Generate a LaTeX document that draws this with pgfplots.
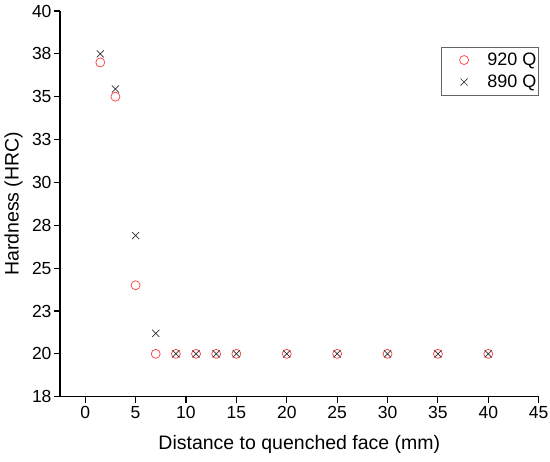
\documentclass[border=0pt]{standalone}
\usepackage{fontspec}
\setmainfont{Liberation Sans}
\usepackage{pgfplots}
\pgfplotsset{compat=1.18}
\definecolor{redm}{RGB}{255,60,60}
\definecolor{darkm}{RGB}{50,50,50}
\pgfplotsset{myleg/.style={legend image code/.code={\path[draw=none,fill=none] (0bp,-4bp) rectangle (44bp,4bp); \draw[##1,mark repeat=2,mark phase=2] plot coordinates {(0bp,0bp)(22.7bp,0bp)(44bp,0bp)};}}}
\begin{document}
\begin{tikzpicture}
\useasboundingbox (-60bp,-65.3bp) rectangle (490bp,396.7bp);
\begin{axis}[
  at={(0,0)}, anchor=south west,
  scale only axis,
  width=478.7bp, height=385.7bp,
  axis lines*=left,
  axis line style={black, line width=1.1bp},
  xmin=-2.5, xmax=45, ymin=17.5, ymax=40,
  xtick={0,5,...,45},
  ytick={17.5,20,22.5,25,27.5,30,32.5,35,37.5,40},
  yticklabels={18,20,23,25,28,30,33,35,38,40},
  tick align=outside,
  major tick length=6bp,
  tick style={black, line width=1.1bp},
  /pgf/number format/assume math mode=true,
  tick label style={font=\fontsize{17.5bp}{20bp}\selectfont},
  yticklabel style={xshift=1bp},
  label style={font=\fontsize{19.5bp}{22bp}\selectfont},
  xlabel={Distance to quenched face (mm)},
  ylabel={Hardness (HRC)},
  xlabel style={at={(axis description cs:0.5,-0.1245)}, anchor=center},
  ylabel style={at={(axis description cs:-0.097,0.5)}, anchor=center},
  legend style={at={(1,0.9074)}, anchor=north east, draw=gray!80!black, line width=0.6bp,
    font=\fontsize{18bp}{20bp}\selectfont, row sep=4bp, inner xsep=0bp, inner ysep=4bp},
  legend cell align=left,
]
\addplot[only marks, mark=o, mark size=4.5bp, color=redm, mark options={line width=0.7bp}, myleg]
coordinates {(1.5,37.0) (3,35.0) (5,24.0) (7,20) (9,20) (11,20) (13,20) (15,20) (20,20) (25,20) (30,20) (35,20) (40,20)};
\addlegendentry{920 Q}
\addplot[only marks, mark=x, mark size=5bp, color=darkm, mark options={line width=0.7bp}, myleg]
coordinates {(1.5,37.5) (3,35.45) (5,26.9) (7,21.2) (9,20) (11,20) (13,20) (15,20) (20,20) (25,20) (30,20) (35,20) (40,20)};
\addlegendentry{890 Q}
\end{axis}
\end{tikzpicture}
\end{document}
